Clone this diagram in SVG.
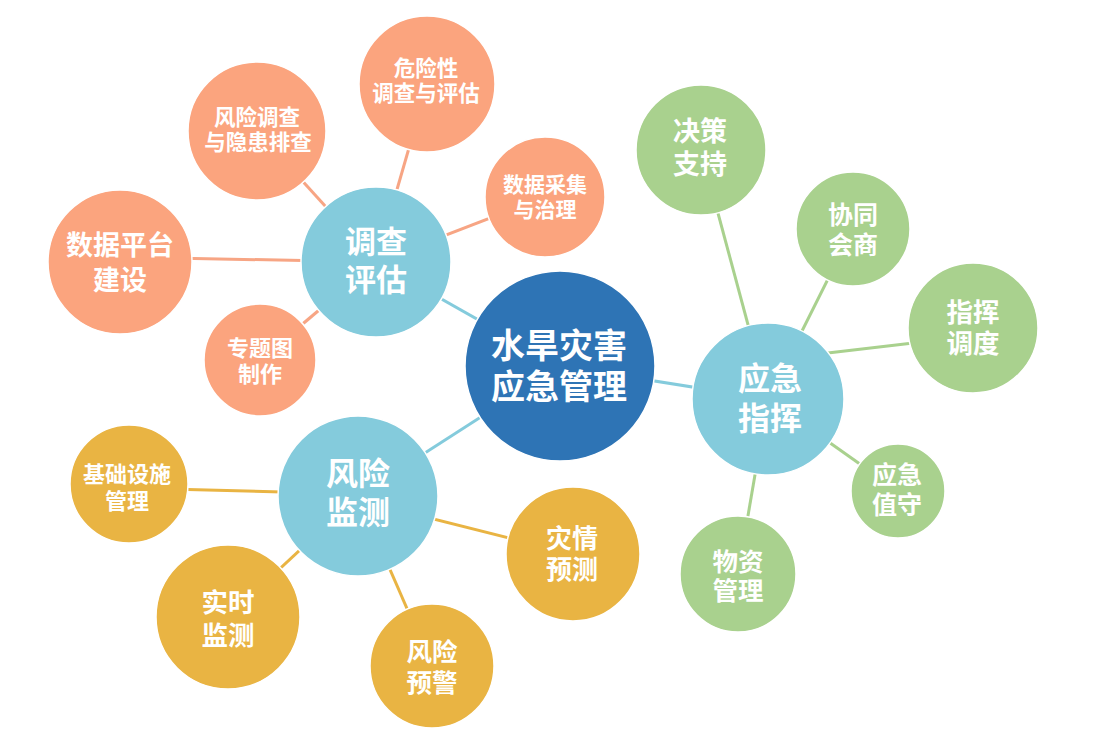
<svg xmlns="http://www.w3.org/2000/svg" width="1097" height="743" viewBox="0 0 1097 743">
<style>
text{font-family:"Noto Sans CJK SC","Noto Sans",sans-serif;font-weight:bold;fill:#fff;text-anchor:middle}
.o{fill:#FBA47E}.b{fill:#84CBDC}.c{fill:#2E74B5}.g{fill:#A9D18E}.y{fill:#E9B443}
circle{stroke:#fff;stroke-width:1.5}
.lo{stroke:#F7A584;stroke-width:3}.lb{stroke:#84CBDC;stroke-width:3}.lg{stroke:#A9D18E;stroke-width:3}.ly{stroke:#E9B443;stroke-width:3}
</style>
<rect width="1097" height="743" fill="#fff"/>
<g id="connectors">
<line class="lo" x1="257" y1="131" x2="376" y2="262"/>
<line class="lo" x1="420" y1="110" x2="376" y2="262"/>
<line class="lo" x1="545" y1="197" x2="376" y2="262"/>
<line class="lo" x1="120" y1="257" x2="376" y2="262"/>
<line class="lo" x1="260" y1="360" x2="376" y2="262"/>
<line class="lb" x1="376" y1="262" x2="560" y2="366"/>
<line class="lb" x1="358" y1="496" x2="560" y2="366"/>
<line class="lb" x1="560" y1="366" x2="768" y2="399"/>
<line class="ly" x1="129" y1="488" x2="358" y2="494"/>
<line class="ly" x1="228" y1="617" x2="358" y2="496"/>
<line class="ly" x1="432" y1="666" x2="358" y2="496"/>
<line class="ly" x1="573" y1="554" x2="358" y2="500"/>
<line class="lg" x1="701" y1="150" x2="768" y2="399"/>
<line class="lg" x1="853" y1="229" x2="768" y2="399"/>
<line class="lg" x1="973" y1="336" x2="768" y2="360"/>
<line class="lg" x1="898" y1="491" x2="768" y2="399"/>
<line class="lg" x1="738" y1="574" x2="768" y2="399"/>
</g>
<g id="n-fxdc"><circle class="o" cx="257" cy="131" r="69"/><text font-size="21.5"><tspan x="257" y="125">风险调查</tspan><tspan x="258" y="150">与隐患排查</tspan></text></g>
<g id="n-wxx"><circle class="o" cx="427" cy="84" r="68"/><text font-size="21.5"><tspan x="426" y="76">危险性</tspan><tspan x="426" y="101">调查与评估</tspan></text></g>
<g id="n-sjcj"><circle class="o" cx="545" cy="197" r="60"/><text font-size="21"><tspan x="545" y="192">数据采集</tspan><tspan x="545" y="217">与治理</tspan></text></g>
<g id="n-sjpt"><circle class="o" cx="120" cy="262" r="72"/><text font-size="27"><tspan x="120" y="255">数据平台</tspan><tspan x="120" y="290">建设</tspan></text></g>
<g id="n-ztt"><circle class="o" cx="260" cy="360" r="56"/><text font-size="22"><tspan x="260" y="356">专题图</tspan><tspan x="260" y="382">制作</tspan></text></g>
<g id="n-dcpg"><circle class="b" cx="376" cy="262" r="75"/><text font-size="31"><tspan x="376" y="253">调查</tspan><tspan x="376" y="291">评估</tspan></text></g>
<g id="n-center"><circle class="c" cx="560" cy="366" r="95"/><text font-size="34"><tspan x="559" y="358">水旱灾害</tspan><tspan x="559" y="399">应急管理</tspan></text></g>
<g id="n-fxjc"><circle class="b" cx="358" cy="496" r="80"/><text font-size="32"><tspan x="358" y="485">风险</tspan><tspan x="358" y="524">监测</tspan></text></g>
<g id="n-yjzh"><circle class="b" cx="768" cy="399" r="76"/><text font-size="32"><tspan x="770" y="390">应急</tspan><tspan x="770" y="430">指挥</tspan></text></g>
<g id="n-jcss"><circle class="y" cx="129" cy="484" r="59"/><text font-size="22"><tspan x="127" y="482">基础设施</tspan><tspan x="127" y="509">管理</tspan></text></g>
<g id="n-ssjc"><circle class="y" cx="228" cy="617" r="72"/><text font-size="26.5"><tspan x="228" y="612">实时</tspan><tspan x="228" y="645">监测</tspan></text></g>
<g id="n-fxyj"><circle class="y" cx="432" cy="666" r="62"/><text font-size="25.5"><tspan x="432" y="661">风险</tspan><tspan x="432" y="692">预警</tspan></text></g>
<g id="n-zqyc"><circle class="y" cx="573" cy="554" r="67"/><text font-size="26"><tspan x="572" y="548">灾情</tspan><tspan x="572" y="579">预测</tspan></text></g>
<g id="n-jczc"><circle class="g" cx="701" cy="150" r="65"/><text font-size="27"><tspan x="700" y="141">决策</tspan><tspan x="700" y="174">支持</tspan></text></g>
<g id="n-xths"><circle class="g" cx="853" cy="229" r="57"/><text font-size="25"><tspan x="853" y="224">协同</tspan><tspan x="853" y="254">会商</tspan></text></g>
<g id="n-zhdd"><circle class="g" cx="973" cy="328" r="65"/><text font-size="26.5"><tspan x="973" y="322">指挥</tspan><tspan x="973" y="353">调度</tspan></text></g>
<g id="n-yjzs"><circle class="g" cx="898" cy="491" r="47"/><text font-size="25"><tspan x="897" y="484">应急</tspan><tspan x="897" y="514">值守</tspan></text></g>
<g id="n-wzgl"><circle class="g" cx="738" cy="574" r="58"/><text font-size="25.5"><tspan x="738" y="571">物资</tspan><tspan x="738" y="600">管理</tspan></text></g>
</svg>
